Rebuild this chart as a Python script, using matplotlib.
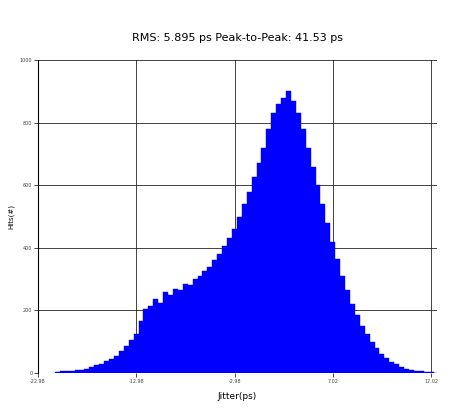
import numpy as np
import matplotlib.pyplot as plt

# bin centres (ps) and hit counts
jitter = np.arange(-21.0, 18.75, 0.5)
hits = [4, 6, 5, 8, 10, 9, 14, 18, 25, 30, 38, 45, 55, 70, 85, 105, 125, 165,
        205, 215, 235, 225, 260, 250, 270, 265, 285, 280, 300, 310, 325, 340,
        360, 380, 405, 430, 460, 500, 540, 580, 625, 670, 720, 780, 830, 860,
        880, 900, 870, 830, 780, 720, 660, 600, 540, 480, 420, 365, 310, 265,
        220, 185, 150, 125, 100, 80, 62, 48, 36, 28, 20, 14, 10, 7, 5, 3, 2,
        1, 1, 0]
xticks = [-22.98, -12.98, -2.98, 7.02, 17.02]
yticks = [0, 200, 400, 600, 800, 1000]

fig = plt.figure(figsize=(4.74, 4.09), dpi=100)
ax = fig.add_axes([0.080, 0.088, 0.842, 0.765])

ax.bar(jitter, hits, width=0.5, color='#0000ff', edgecolor='#0000ff', linewidth=0.3, zorder=3)

ax.set_xlim(-22.98, 17.6)
ax.set_ylim(0, 1000)
ax.set_xticks(xticks)
ax.set_xticklabels([f"{t:.2f}" for t in xticks], fontsize=3.5, color='#444444')
ax.set_yticks(yticks)
ax.set_yticklabels([str(t) for t in yticks], fontsize=3.5, color='#444444')
ax.tick_params(length=3, width=0.5, pad=1)
ax.grid(True, color='#222222', linewidth=0.6, zorder=0)
for s in ['top', 'right']:
    ax.spines[s].set_visible(False)
ax.spines['left'].set_linewidth(0.8)
ax.spines['bottom'].set_visible(False)

ax.set_xlabel('Jitter(ps)', fontsize=6.5, labelpad=6)
ax.set_ylabel('Hits(#)', fontsize=5, labelpad=4)
fig.text(0.5, 0.9, 'RMS: 5.895 ps Peak-to-Peak: 41.53 ps', ha='center', fontsize=8)

fig.savefig('out.png', dpi=100)
